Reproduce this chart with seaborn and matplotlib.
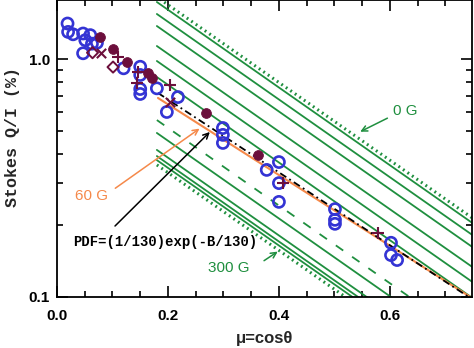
import numpy as np
import pandas as pd
import matplotlib
matplotlib.use("Agg")
import matplotlib.pyplot as plt
import seaborn as sns
from matplotlib.ticker import FixedLocator, MultipleLocator, NullFormatter, FixedFormatter

# ---------------- data ----------------
# blue open circles (mu, Q/I %)
circ_mu = [0.019, 0.020, 0.029, 0.047, 0.051, 0.060, 0.063, 0.072, 0.047, 0.120,
           0.150, 0.150, 0.150, 0.150, 0.180, 0.218, 0.198, 0.299, 0.299, 0.299,
           0.400, 0.378, 0.400, 0.400, 0.501, 0.501, 0.501, 0.602, 0.602, 0.613]
circ_q = [1.41, 1.30, 1.27, 1.28, 1.20, 1.26, 1.16, 1.17, 1.057, 0.914,
          0.928, 0.857, 0.748, 0.713, 0.753, 0.692, 0.599, 0.513, 0.480, 0.444,
          0.369, 0.342, 0.301, 0.251, 0.234, 0.211, 0.203, 0.169, 0.150, 0.143]
# maroon filled circles
fill_mu = [0.0775, 0.101, 0.126, 0.164, 0.171, 0.269, 0.362]
fill_q = [1.24, 1.10, 0.97, 0.87, 0.83, 0.593, 0.395]
# maroon plus
plus_mu = [0.110, 0.146, 0.144, 0.204, 0.407, 0.578]
plus_q = [1.02, 0.88, 0.79, 0.778, 0.301, 0.186]
# maroon x
xx_mu = [0.080, 0.204]
xx_q = [1.06, 0.659]
# maroon diamonds
dia_mu = [0.064, 0.101]
dia_q = [1.063, 0.925]

# model curves: value at mu_start and mu_end
mu_start, mu_end = 0.18, 0.75
green_solid_start = [1.736, 1.546, 1.376, 1.134, 0.981, 0.840, 0.489, 0.415, 0.391, 0.376]
green_solid_end = [0.2036, 0.1813, 0.1614, 0.1330, 0.1151, 0.0986, 0.0573, 0.0486, 0.0459, 0.0442]
green_dot_start = [1.822, 0.359]   # 0 G and 300 G
green_dot_end = [0.2137, 0.0421]
green_dash_start, green_dash_end = 0.554, 0.065
orange_mu = [0.182, 0.745]
orange_q = [0.686, 0.100]
black_mu = [0.182, 0.745]
black_q = [0.720, 0.099]

# ---------------- style ----------------
sns.set_style("ticks")
plt.rcParams["font.family"] = ["Liberation Sans", "DejaVu Sans"]

BLUE = "#3434d4"
MAROON = "#6c0f3c"
GREEN = "#1f8f3f"
ORANGE = "#f5894a"

fig = plt.figure(figsize=(4.74, 3.48), dpi=100)
ax = fig.add_axes([57 / 474, 51 / 348, 415 / 474, 297 / 348])

# green model lines
for a, b in zip(green_solid_start, green_solid_end):
    sns.lineplot(x=[mu_start, mu_end], y=[a, b], ax=ax, color=GREEN, lw=1.3,
                 estimator=None, sort=False)
for a, b in zip(green_dot_start, green_dot_end):
    sns.lineplot(x=[mu_start, mu_end], y=[a, b], ax=ax, color=GREEN, lw=2.2,
                 linestyle=(0, (0.6, 1.2)), estimator=None, sort=False)
sns.lineplot(x=[mu_start, mu_end], y=[green_dash_start, green_dash_end], ax=ax,
             color=GREEN, lw=1.3, linestyle=(0, (5, 6)), estimator=None, sort=False)
sns.lineplot(x=orange_mu, y=orange_q, ax=ax, color=ORANGE, lw=1.5,
             estimator=None, sort=False)
sns.lineplot(x=black_mu, y=black_q, ax=ax, color="black", lw=1.3,
             linestyle=(0, (4, 2, 1, 2)), estimator=None, sort=False)

# data points
sns.scatterplot(x=circ_mu, y=circ_q, ax=ax, marker="o", s=64, facecolors="none",
                edgecolor=BLUE, linewidth=1.9, zorder=5)
sns.scatterplot(x=fill_mu, y=fill_q, ax=ax, marker="o", s=50, color=MAROON,
                edgecolor=MAROON, zorder=6)
sns.scatterplot(x=plus_mu, y=plus_q, ax=ax, marker="+", s=64, color=MAROON,
                linewidth=1.5, zorder=6)
sns.scatterplot(x=xx_mu, y=xx_q, ax=ax, marker="x", s=45, color=MAROON,
                linewidth=1.5, zorder=6)
sns.scatterplot(x=dia_mu, y=dia_q, ax=ax, marker="D", s=32, facecolors="none",
                edgecolor=MAROON, linewidth=1.4, zorder=6)

# axes
ax.set_yscale("log")
ax.set_xlim(0, 0.748)
ax.set_ylim(0.1, 1.77)
ax.xaxis.set_major_locator(FixedLocator([0.0, 0.2, 0.4, 0.6]))
ax.xaxis.set_minor_locator(MultipleLocator(0.05))
ax.set_xticklabels(["0.0", "0.2", "0.4", "0.6"])
ax.yaxis.set_major_locator(FixedLocator([0.1, 1.0]))
ax.yaxis.set_major_formatter(FixedFormatter(["0.1", "1.0"]))
ax.yaxis.set_minor_locator(FixedLocator([0.2, 0.3, 0.4, 0.5, 0.6, 0.7, 0.8, 0.9, 2.0]))
ax.yaxis.set_minor_formatter(NullFormatter())
ax.tick_params(which="both", direction="in", top=True, right=True, width=1.2,
               labelsize=11, colors="black")
ax.tick_params(which="major", length=8)
ax.tick_params(which="minor", length=4)
ax.tick_params(axis="x", pad=9)
ax.tick_params(axis="y", pad=5)
for lbl in ax.get_xticklabels() + ax.get_yticklabels():
    lbl.set_fontweight("semibold")
for sp in ax.spines.values():
    sp.set_linewidth(1.3)
    sp.set_color("black")

ax.set_xlabel("")
ax.set_ylabel("")
fig.text(265 / 474, 1 - 338 / 348, "μ=cosθ", fontsize=12, fontweight="bold",
         ha="center", va="center")
fig.text(13 / 474, 1 - 137 / 348, "Stokes Q/I (%)", fontsize=12, fontweight="bold",
         family=["Liberation Mono", "DejaVu Sans"], rotation=90,
         ha="center", va="center")

# annotations
ax.text(0.605, 0.605, "0 G", color=GREEN, fontsize=11, ha="left", va="center")
ax.annotate("", xy=(0.542, 0.489), xytext=(0.600, 0.571),
            arrowprops=dict(arrowstyle="->", color=GREEN, lw=1.1))
ax.text(0.063, 0.266, "60 G", color=ORANGE, fontsize=11, ha="center", va="center")
ax.annotate("", xy=(0.261, 0.518), xytext=(0.101, 0.282),
            arrowprops=dict(arrowstyle="->", color=ORANGE, lw=1.1))
ax.text(0.272, 0.132, "300 G", color=GREEN, fontsize=11, ha="left", va="center")
ax.annotate("", xy=(0.402, 0.1575), xytext=(0.369, 0.140),
            arrowprops=dict(arrowstyle="->", color=GREEN, lw=1.1))
ax.text(0.029, 0.170, "PDF=(1/130)exp(-B/130)", color="black", fontsize=10,
        fontweight="bold", family=["Liberation Mono", "DejaVu Sans"],
        ha="left", va="center")
ax.annotate("", xy=(0.279, 0.503), xytext=(0.101, 0.195),
            arrowprops=dict(arrowstyle="->", color="black", lw=1.1))

fig.savefig("out.png", dpi=100)
